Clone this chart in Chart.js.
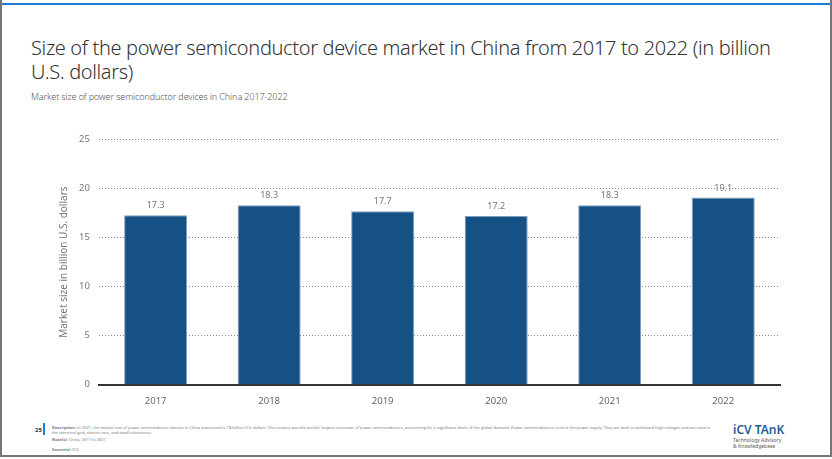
<!DOCTYPE html>
<html><head><meta charset="utf-8">
<script src="https://cdn.jsdelivr.net/npm/chart.js@4"></script>
<style>
html,body{margin:0;padding:0;background:#fff;}
body{width:832px;height:459px;position:relative;overflow:hidden;font-family:"Noto Sans",sans-serif;}
#frame{position:absolute;left:0;top:0;width:828px;height:455px;border:2px solid #777;border-top:none;}
#topline{position:absolute;left:2px;top:3px;width:828px;height:2px;background:#1e7fd6;}
#title{position:absolute;left:31px;top:36px;width:770px;font-size:20px;font-weight:300;color:#333;line-height:24px;letter-spacing:-0.35px;}
#sub{position:absolute;left:31px;top:90px;font-size:9px;color:#555;font-weight:300;letter-spacing:-0.1px;}
#wrap{position:absolute;left:40px;top:125px;width:760px;height:285px;}
.ft{position:absolute;font-size:4px;color:#777;line-height:5px;}
#pg{position:absolute;left:35px;top:426px;font-size:6px;font-weight:bold;color:#333;}
#bar{position:absolute;left:43px;top:423px;width:2px;height:12px;background:#1e7fd6;}
#logo{position:absolute;left:733px;top:421px;font-size:12px;color:#1f5c99;font-weight:600;}
#logo2{position:absolute;left:733px;top:437px;font-size:5px;color:#555;line-height:6px;}
</style></head><body>
<div id="frame"></div><div id="topline"></div>
<div id="title">Size of the power semiconductor device market in China from 2017 to 2022 (in billion U.S. dollars)</div>
<div id="sub">Market size of power semiconductor devices in China 2017-2022</div>
<div id="wrap"><canvas id="c"></canvas></div>
<div id="pg">25</div><div id="bar"></div>
<div class="ft" style="left:52px;top:425px;width:660px;"><b>Description:</b> In 2021, the market size of power semiconductor devices in China amounted to 18 billion U.S. dollars. The country was the world's largest consumer of power semiconductors, accounting for a significant share of the global demand. Power semiconductors control the power supply. They are built to withstand high voltages and are used in the electrical grid, electric cars, and small electronics.</div>
<div class="ft" style="left:52px;top:437px;"><b>Note(s):</b> China; 2017 to 2021</div>
<div class="ft" style="left:52px;top:447px;"><b>Source(s):</b> ICV</div>
<div id="logo">iCV TAnK</div>
<div id="logo2">Technology Advisory<br>&amp; Knowledgebase</div>
<script>
const categories=["2017","2018","2019","2020","2021","2022"];
const values=[17.3,18.3,17.7,17.2,18.3,19.1];
const labelPlugin={id:'lbl',afterDatasetsDraw(ch){const ctx=ch.ctx;const m=ch.getDatasetMeta(0);ctx.save();ctx.font='9px "Noto Sans"';ctx.fillStyle='#777';ctx.textAlign='center';ctx.textBaseline='bottom';m.data.forEach((b,i)=>ctx.fillText(values[i].toFixed(1),b.x,b.y-5));ctx.restore();}};
new Chart(document.getElementById('c'),{type:'bar',
data:{labels:categories,datasets:[{data:values,backgroundColor:'#155184',borderColor:'#7f9fbf',borderWidth:{left:1,right:1,top:1,bottom:0},categoryPercentage:0.555,barPercentage:1}]},
options:{responsive:true,maintainAspectRatio:false,animation:false,
layout:{padding:{left:18,right:20,top:8,bottom:0}},
plugins:{legend:{display:false},tooltip:{enabled:false}},
scales:{x:{grid:{display:false},border:{color:'#333',width:2},ticks:{color:'#666',font:{size:9.5,family:'Noto Sans'}}},
y:{min:0,max:25,ticks:{stepSize:5,color:'#777',font:{size:9.5,family:'Noto Sans'},padding:9},
border:{display:false,dash:[1,2]},grid:{color:'#888',drawTicks:false},
title:{display:true,text:'Market size in billion U.S. dollars',color:'#777',padding:0,font:{size:10,family:'Noto Sans'}}}}},
plugins:[labelPlugin]});
</script></body></html>
